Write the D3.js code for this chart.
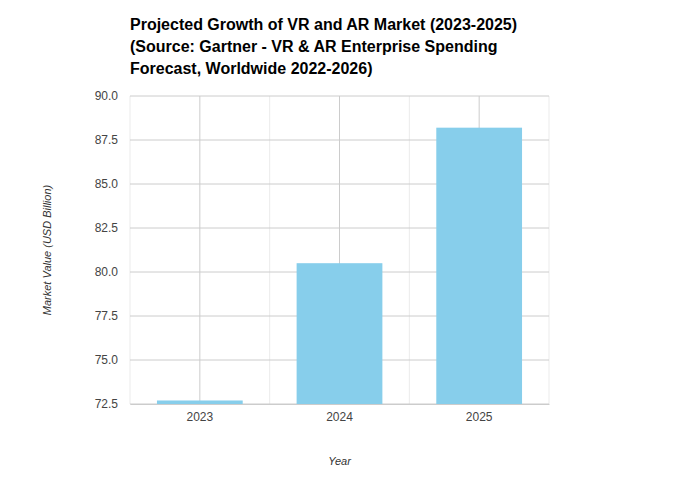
<!DOCTYPE html>
<html><head><meta charset="utf-8">
<script src="https://cdn.jsdelivr.net/npm/d3@7"></script>
<style>body{margin:0;background:#fff;font-family:"Liberation Sans",Arial,sans-serif}</style>
</head><body><svg id="c" width="680" height="500"></svg>
<script>
const categories = ["2023", "2024", "2025"];
const values = [72.7, 80.5, 88.2];
const yTicks = [72.5, 75.0, 77.5, 80.0, 82.5, 85.0, 87.5, 90.0];
const titleLines = ["Projected Growth of VR and AR Market (2023-2025)", "(Source: Gartner - VR & AR Enterprise Spending", "Forecast, Worldwide 2022-2026)"];

const svg = d3.select("#c");
const m = {l:130, r:549, t:96, b:404};
const x = d3.scaleBand().domain(categories).range([m.l, m.r]).paddingInner(0).paddingOuter(0);
const y = d3.scaleLinear().domain([72.5, 90]).range([m.b, m.t]);
const bw = x.bandwidth() * 0.614;

// light boundary grid lines
const bounds = categories.map(c => x(c)).concat([m.r]);
svg.append("g").selectAll("line").data(bounds).join("line")
  .attr("x1", d => d).attr("x2", d => d).attr("y1", m.t).attr("y2", m.b)
  .attr("stroke", "#ebebeb").attr("stroke-width", 1);
// category grid lines
svg.append("g").selectAll("line").data(categories).join("line")
  .attr("x1", d => x(d) + x.bandwidth()/2).attr("x2", d => x(d) + x.bandwidth()/2)
  .attr("y1", m.t).attr("y2", m.b).attr("stroke", "#cccccc");
// horizontal grid
svg.append("g").selectAll("line").data(yTicks).join("line")
  .attr("x1", m.l).attr("x2", m.r).attr("y1", d => y(d)).attr("y2", d => y(d))
  .attr("stroke", "#cccccc");

// bars
svg.append("g").selectAll("rect").data(categories).join("rect")
  .attr("x", (d) => x(d) + (x.bandwidth() - bw)/2)
  .attr("width", bw)
  .attr("y", (d,i) => y(values[i]))
  .attr("height", (d,i) => y(72.5) - y(values[i]))
  .attr("fill", "#87ceeb");

// axes
const yAxis = d3.axisLeft(y).tickValues(yTicks).tickFormat(d3.format(".1f")).tickSize(0).tickPadding(12);
const gy = svg.append("g").attr("transform", `translate(${m.l},0)`).call(yAxis);
gy.select(".domain").remove();
gy.selectAll("text").attr("font-size", 12).attr("fill", "#444").attr("font-family", "Liberation Sans, Arial, sans-serif");

const xAxis = d3.axisBottom(x).tickSize(0).tickPadding(8);
const gx = svg.append("g").attr("transform", `translate(0,${m.b})`).call(xAxis);
gx.select(".domain").attr("stroke", "#cccccc");
gx.selectAll("text").attr("font-size", 12).attr("fill", "#444").attr("font-family", "Liberation Sans, Arial, sans-serif");

// title
svg.append("text").attr("x", 130).attr("y", 30)
  .attr("font-size", 16).attr("font-weight", "bold").attr("fill", "#000")
  .selectAll("tspan").data(titleLines).join("tspan")
  .attr("x", 130).attr("dy", (d,i) => i ? 22 : 0).text(d => d);

// axis titles
svg.append("text").attr("x", (m.l+m.r)/2).attr("y", 465).attr("text-anchor", "middle")
  .attr("font-size", 11).attr("font-style", "italic").attr("fill", "#333").text("Year");
svg.append("text").attr("transform", `translate(51,${(m.t+m.b)/2}) rotate(-90)`)
  .attr("text-anchor", "middle").attr("font-size", 11).attr("font-style", "italic").attr("fill", "#333")
  .text("Market Value (USD Billion)");
</script></body></html>
